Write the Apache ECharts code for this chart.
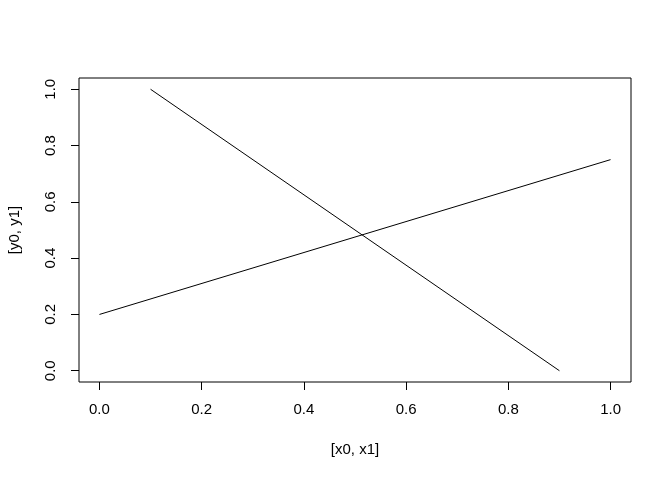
<!DOCTYPE html>
<html>
<head>
<meta charset="utf-8">
<script src="https://cdn.jsdelivr.net/npm/echarts@6/dist/echarts.min.js"></script>
<style>html,body{margin:0;padding:0;background:#fff}#c{width:672px;height:480px}</style>
</head>
<body>
<div id="c"></div>
<script>
var seg1X = [0, 1];
var seg1Y = [0.2, 0.75];
var seg2X = [0.1, 0.9];
var seg2Y = [1, 0];
var xTicks = [0, 0.2, 0.4, 0.6, 0.8, 1.0];
var yTicks = [0, 0.2, 0.4, 0.6, 0.8, 1.0];
var xTitle = '[x0, x1]';
var yTitle = '[y0, y1]';

function pairs(xs, ys) { return xs.map(function (x, i) { return [x, ys[i]]; }); }

var font = 'Liberation Sans, Arial, Helvetica, sans-serif';
var fs = 15;
var chart = echarts.init(document.getElementById('c'), null, {renderer: 'canvas'});
chart.setOption({
  animation: false,
  backgroundColor: '#fff',
  grid: {left: 79, right: 41, top: 78, bottom: 98, show: true, borderColor: '#000', borderWidth: 1, backgroundColor: 'transparent'},
  xAxis: {
    type: 'value', min: -0.04, max: 1.04,
    splitLine: {show: false},
    axisLine: {show: false, onZero: false},
    axisTick: {show: true, customValues: xTicks, length: 8, inside: false, lineStyle: {color: '#000'}},
    axisLabel: {customValues: xTicks, margin: 20, color: '#000', fontSize: fs, fontFamily: font,
      formatter: function (v) { return v.toFixed(1); }}
  },
  yAxis: {
    type: 'value', min: -0.04, max: 1.04,
    splitLine: {show: false},
    axisLine: {show: false, onZero: false},
    axisTick: {show: true, customValues: yTicks, length: 8, inside: false, lineStyle: {color: '#000'}},
    axisLabel: {customValues: yTicks, margin: 21, rotate: 90, color: '#000', fontSize: fs, fontFamily: font,
      formatter: function (v) { return v.toFixed(1); }}
  },
  graphic: [
    {type: 'text', x: 355, y: 450, style: {text: xTitle, align: 'center', verticalAlign: 'middle', fill: '#000', font: fs + 'px ' + font}},
    {type: 'text', x: 15, y: 230, rotation: Math.PI / 2, style: {text: yTitle, align: 'center', verticalAlign: 'middle', fill: '#000', font: fs + 'px ' + font}}
  ],
  series: [
    {type: 'line', data: pairs(seg1X, seg1Y), symbol: 'none', lineStyle: {color: '#000', width: 1}},
    {type: 'line', data: pairs(seg2X, seg2Y), symbol: 'none', lineStyle: {color: '#000', width: 1}}
  ]
});
</script>
</body>
</html>
